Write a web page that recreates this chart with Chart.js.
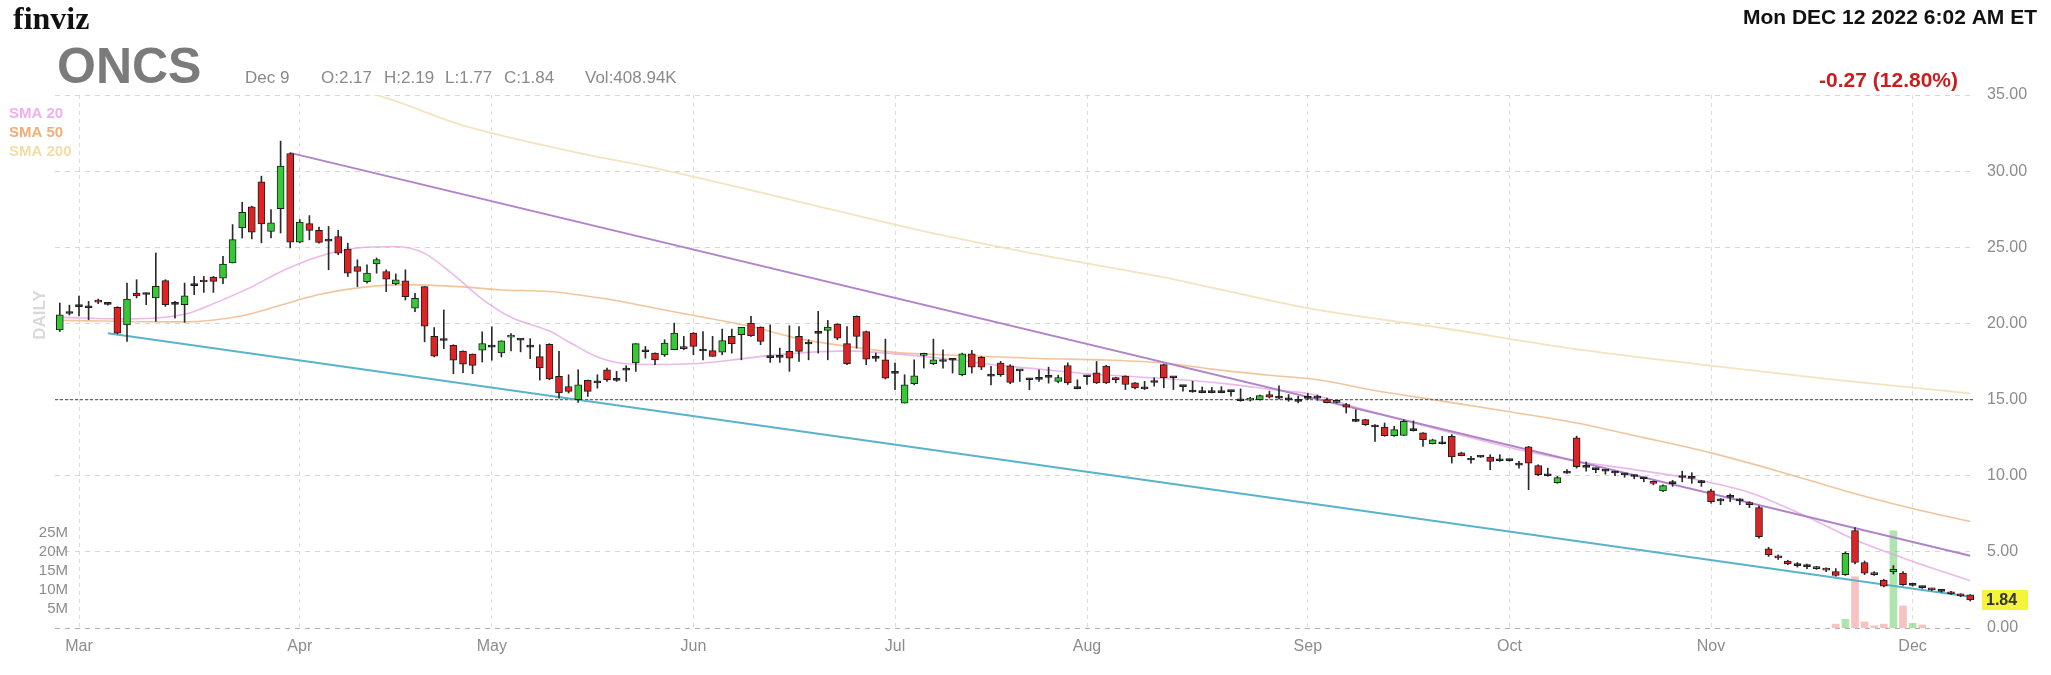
<!DOCTYPE html>
<html>
<head>
<meta charset="utf-8">
<title>ONCS daily</title>
<script src="https://cdn.jsdelivr.net/npm/chart.js@4.4.0/dist/chart.umd.min.js"></script>
<style>
    html, body { margin: 0; padding: 0; background: #ffffff; }
    #chart { display: block; }
</style>
</head>
<body>
<canvas id="chart" width="2051" height="675"></canvas>
<script>
/**
 * ONCS daily candles (Feb 25 - Dec 9, 2022), finviz style
 * Candles are floating bars on a linear bar-index axis
 */

// Trading days shown on the chart
const dates = [
    'Feb 25','Feb 28',
    'Mar 1','Mar 2','Mar 3','Mar 4','Mar 7','Mar 8','Mar 9','Mar 10','Mar 11','Mar 14','Mar 15','Mar 16','Mar 17','Mar 18','Mar 21','Mar 22','Mar 23','Mar 24','Mar 25','Mar 28','Mar 29','Mar 30','Mar 31',
    'Apr 1','Apr 4','Apr 5','Apr 6','Apr 7','Apr 8','Apr 11','Apr 12','Apr 13','Apr 14','Apr 18','Apr 19','Apr 20','Apr 21','Apr 22','Apr 25','Apr 26','Apr 27','Apr 28','Apr 29',
    'May 2','May 3','May 4','May 5','May 6','May 9','May 10','May 11','May 12','May 13','May 16','May 17','May 18','May 19','May 20','May 23','May 24','May 25','May 26','May 27','May 31',
    'Jun 1','Jun 2','Jun 3','Jun 6','Jun 7','Jun 8','Jun 9','Jun 10','Jun 13','Jun 14','Jun 15','Jun 16','Jun 17','Jun 21','Jun 22','Jun 23','Jun 24','Jun 27','Jun 28','Jun 29','Jun 30',
    'Jul 1','Jul 5','Jul 6','Jul 7','Jul 8','Jul 11','Jul 12','Jul 13','Jul 14','Jul 15','Jul 18','Jul 19','Jul 20','Jul 21','Jul 22','Jul 25','Jul 26','Jul 27','Jul 28','Jul 29',
    'Aug 1','Aug 2','Aug 3','Aug 4','Aug 5','Aug 8','Aug 9','Aug 10','Aug 11','Aug 12','Aug 15','Aug 16','Aug 17','Aug 18','Aug 19','Aug 22','Aug 23','Aug 24','Aug 25','Aug 26','Aug 29','Aug 30','Aug 31',
    'Sep 1','Sep 2','Sep 6','Sep 7','Sep 8','Sep 9','Sep 12','Sep 13','Sep 14','Sep 15','Sep 16','Sep 19','Sep 20','Sep 21','Sep 22','Sep 23','Sep 26','Sep 27','Sep 28','Sep 29','Sep 30',
    'Oct 3','Oct 4','Oct 5','Oct 6','Oct 7','Oct 10','Oct 11','Oct 12','Oct 13','Oct 14','Oct 17','Oct 18','Oct 19','Oct 20','Oct 21','Oct 24','Oct 25','Oct 26','Oct 27','Oct 28','Oct 31',
    'Nov 1','Nov 2','Nov 3','Nov 4','Nov 7','Nov 8','Nov 9','Nov 10','Nov 11','Nov 14','Nov 15','Nov 16','Nov 17','Nov 18','Nov 21','Nov 22','Nov 23','Nov 25','Nov 28','Nov 29','Nov 30',
    'Dec 1','Dec 2','Dec 5','Dec 6','Dec 7','Dec 8','Dec 9'
];

const opens = [
    19.58, 20.65, 21.1, 21.05, 21.5, 21.3, 21.05, 19.9, 22.0, 21.92,
    21.67, 22.81, 21.27, 21.23, 22.48, 22.8, 23.05, 22.98, 23.97, 26.27,
    27.65, 29.3, 26.05, 27.54, 31.16, 25.33, 26.55, 26.11, 25.45, 25.71,
    24.88, 23.74, 22.75, 23.9, 23.41, 22.6, 22.79, 21.0, 22.42, 19.16,
    18.9, 18.57, 18.18, 17.98, 18.24, 18.46, 18.07, 19.1, 18.95, 18.46,
    17.82, 18.62, 16.52, 15.86, 14.99, 16.26, 16.13, 16.96, 16.3, 16.96,
    17.4, 18.16, 18.05, 17.94, 18.27, 18.45, 19.37, 18.21, 18.21, 18.12,
    19.15, 19.26, 20.02, 19.76, 17.77, 17.77, 18.16, 19.15, 18.67, 19.37,
    19.54, 19.96, 18.67, 20.46, 19.47, 17.72, 17.61, 16.74, 14.77, 16.04,
    17.9, 17.35, 17.52, 17.62, 16.63, 18.01, 17.77, 16.56, 17.4, 17.22,
    16.92, 16.35, 16.35, 16.48, 16.2, 17.24, 15.75, 16.55, 16.75, 17.2,
    16.45, 16.54, 16.1, 15.72, 16.14, 17.3, 16.47, 15.88, 15.55, 15.48,
    15.48, 15.48, 15.55, 14.96, 14.96, 15.0, 15.33, 15.15, 15.0, 14.9,
    15.1, 15.11, 15.0, 14.9, 14.67, 13.6, 13.68, 13.25, 13.2, 12.63,
    12.65, 12.98, 12.81, 12.1, 12.15, 12.59, 11.5, 11.05, 11.23, 11.23,
    11.0, 11.0, 10.72, 11.89, 10.66, 10.05, 9.55, 10.2, 12.48, 10.6,
    10.45, 10.35, 10.2, 10.1, 10.0, 9.85, 9.6, 9.0, 9.5, 9.9,
    9.85, 9.6, 9.0, 8.4, 8.6, 8.4, 8.2, 7.9, 5.2, 4.7,
    4.4, 4.15, 4.05, 4.0, 3.9, 3.7, 3.5, 6.4, 4.3, 3.6,
    3.15, 3.7, 3.6, 2.8, 2.7, 2.6, 2.45, 2.35, 2.2, 2.17
];

const highs = [
    21.34, 21.2, 21.8, 21.45, 21.6, 21.32, 21.1, 22.65, 22.87, 22.0,
    24.63, 22.87, 21.45, 22.65, 23.09, 23.09, 23.09, 24.41, 26.49, 27.96,
    27.7, 29.67, 27.48, 31.97, 31.2, 26.82, 27.08, 26.33, 26.37, 26.11,
    25.27, 24.18, 23.85, 24.3, 23.52, 23.25, 23.52, 21.98, 22.42, 19.73,
    20.88, 18.6, 18.2, 18.0, 19.45, 19.78, 18.86, 19.34, 18.97, 19.0,
    18.6, 18.67, 18.16, 16.63, 16.96, 16.28, 16.63, 17.07, 16.85, 17.22,
    18.67, 18.49, 18.07, 18.93, 20.02, 19.15, 19.4, 19.47, 19.15, 19.63,
    19.63, 19.74, 20.46, 19.78, 19.91, 18.38, 19.85, 19.8, 18.93, 20.79,
    20.2, 19.98, 19.8, 20.5, 19.5, 18.05, 18.97, 17.4, 16.63, 17.61,
    18.05, 18.97, 18.27, 17.64, 18.05, 18.23, 17.83, 17.18, 17.51, 17.29,
    16.94, 16.4, 16.96, 17.13, 16.6, 17.41, 16.3, 16.57, 17.5, 17.25,
    16.47, 16.56, 16.12, 16.2, 16.43, 17.32, 16.49, 15.9, 16.2, 15.83,
    15.8, 15.85, 15.57, 15.7, 15.15, 15.3, 15.55, 15.9, 15.33, 15.22,
    15.4, 15.3, 15.1, 14.95, 14.75, 14.34, 13.7, 13.35, 13.46, 13.25,
    13.68, 13.6, 12.83, 12.4, 12.59, 12.7, 11.55, 11.27, 11.3, 11.38,
    11.38, 11.05, 10.94, 11.93, 10.72, 10.5, 9.96, 10.4, 12.6, 10.9,
    10.5, 10.4, 10.3, 10.15, 10.05, 9.9, 9.65, 9.4, 9.7, 10.3,
    10.2, 9.7, 9.1, 8.5, 8.8, 8.5, 8.3, 8.0, 5.3, 4.8,
    4.45, 4.3, 4.2, 4.05, 3.95, 3.9, 5.0, 6.6, 4.4, 3.7,
    3.2, 4.1, 3.7, 2.95, 2.75, 2.62, 2.5, 2.4, 2.25, 2.19
];

const lows = [
    19.47, 20.55, 20.5, 20.25, 21.3, 21.2, 19.32, 18.82, 21.67, 21.23,
    20.13, 21.12, 20.35, 20.07, 21.89, 22.04, 22.04, 22.61, 23.97, 25.61,
    25.55, 25.29, 25.61, 25.94, 24.96, 25.29, 25.49, 25.27, 23.52, 24.51,
    23.08, 22.42, 22.64, 23.3, 22.09, 22.53, 21.54, 20.77, 18.79, 17.8,
    18.35, 16.7, 16.77, 16.7, 17.47, 17.58, 17.8, 18.2, 18.13, 17.69,
    16.28, 16.3, 15.1, 15.43, 14.81, 15.21, 15.75, 16.19, 16.19, 16.19,
    16.85, 17.72, 17.29, 17.83, 18.27, 18.27, 17.94, 17.61, 17.83, 17.94,
    18.05, 17.61, 19.15, 18.6, 17.44, 17.44, 16.85, 17.51, 17.61, 18.05,
    17.61, 18.93, 17.29, 18.38, 17.29, 17.51, 16.35, 15.65, 14.77, 15.97,
    17.07, 17.29, 17.07, 16.74, 16.56, 16.74, 16.96, 15.97, 16.52, 16.04,
    16.19, 15.65, 16.19, 16.08, 16.1, 15.99, 15.7, 15.99, 16.05, 16.05,
    16.1, 15.66, 15.7, 15.66, 15.88, 15.77, 15.66, 15.55, 15.48, 15.44,
    15.44, 15.44, 15.22, 14.89, 14.9, 14.96, 15.1, 15.05, 14.89, 14.78,
    15.0, 14.95, 14.78, 14.78, 14.12, 13.55, 13.3, 12.26, 12.59, 12.59,
    12.63, 12.93, 11.93, 12.08, 12.08, 10.83, 11.3, 10.83, 11.2, 10.39,
    10.94, 10.95, 10.5, 9.08, 10.0, 9.96, 9.5, 10.15, 10.5, 10.3,
    10.2, 10.1, 10.0, 9.9, 9.8, 9.6, 9.4, 8.95, 9.3, 9.6,
    9.5, 9.3, 8.2, 8.1, 8.3, 8.1, 7.9, 5.9, 4.7, 4.5,
    4.15, 4.0, 3.9, 3.85, 3.7, 3.4, 3.45, 4.2, 3.5, 3.45,
    2.7, 3.55, 2.8, 2.75, 2.6, 2.45, 2.35, 2.2, 2.05, 1.77
];

const closes = [
    20.57, 20.72, 21.12, 21.03, 21.4, 21.25, 19.36, 21.6, 21.8, 21.9,
    22.43, 21.23, 21.25, 21.82, 22.5, 22.72, 22.76, 23.9, 25.5, 27.3,
    25.99, 26.54, 26.6, 30.33, 25.33, 26.65, 26.11, 25.32, 25.4, 24.62,
    23.3, 23.41, 23.3, 24.2, 22.9, 22.86, 21.76, 21.65, 19.82, 17.85,
    18.88, 17.58, 17.32, 17.25, 18.68, 18.44, 18.86, 19.2, 18.9, 18.44,
    17.08, 16.36, 15.43, 15.54, 15.97, 15.54, 16.1, 16.3, 16.26, 16.93,
    18.67, 18.14, 17.61, 18.71, 19.37, 18.35, 18.49, 18.19, 17.83, 18.88,
    18.67, 19.74, 19.19, 18.82, 17.75, 17.79, 17.72, 18.16, 18.65, 19.35,
    19.76, 19.04, 17.35, 19.15, 17.66, 17.7, 16.41, 16.72, 15.97, 16.56,
    18.0, 17.61, 17.5, 17.58, 18.01, 17.13, 17.13, 16.54, 16.63, 16.13,
    16.88, 16.3, 16.33, 16.46, 16.45, 16.1, 15.72, 16.5, 16.1, 16.1,
    16.3, 15.99, 15.77, 15.7, 16.12, 16.43, 16.43, 15.85, 15.5, 15.46,
    15.46, 15.46, 15.52, 14.92, 15.1, 15.26, 15.15, 15.1, 14.98, 14.88,
    15.08, 15.09, 14.8, 14.82, 14.5, 13.57, 13.36, 13.2, 12.63, 13.03,
    13.57, 12.96, 12.37, 12.35, 12.1, 11.23, 11.32, 11.03, 11.22, 10.94,
    10.98, 10.99, 10.7, 10.83, 10.07, 10.0, 9.87, 10.17, 10.6, 10.55,
    10.4, 10.3, 10.18, 10.05, 9.95, 9.8, 9.5, 9.35, 9.48, 9.88,
    9.83, 9.55, 8.3, 8.35, 8.58, 8.35, 8.1, 6.0, 4.8, 4.6,
    4.2, 4.1, 4.03, 3.9, 3.8, 3.45, 4.9, 4.3, 3.6, 3.5,
    2.75, 3.85, 2.85, 2.85, 2.65, 2.5, 2.4, 2.25, 2.11, 1.84
];

// Visible volume bars (millions); the rest are too small to see
const volumeDates = ['Nov 18', 'Nov 21', 'Nov 22', 'Nov 23', 'Nov 25', 'Nov 28', 'Nov 29', 'Nov 30', 'Dec 1', 'Dec 2'];
const volumeMillions = [1.0, 2.3, 13.5, 1.6, 0.6, 1.0, 25.5, 5.8, 1.2, 0.8];

// Moving averages, read at sample days
const sma20Dates = ['Feb 25','Mar 8','Mar 16','Mar 21','Mar 25','Mar 30','Apr 5','Apr 11','Apr 18','Apr 21','Apr 26','Apr 29','May 4','May 10','May 12','May 17','May 20','May 25','Jun 1','Jun 7','Jun 13','Jun 17','Jun 24','Jul 1','Jul 11','Jul 18','Jul 25','Aug 1','Aug 8','Aug 15','Aug 22','Aug 29','Sep 1','Sep 9','Sep 20','Sep 27','Oct 4','Oct 12','Oct 20','Oct 28','Nov 7','Nov 15','Nov 22','Nov 30','Dec 9'];
const sma20Values = [20.4, 20.3, 20.6, 21.3, 22.4, 23.4, 24.4, 24.95, 25.05, 24.6, 23.2, 21.6, 20.4, 19.5, 18.8, 17.8, 17.35, 17.3, 17.35, 17.6, 17.9, 18.1, 18.2, 18.0, 17.7, 17.3, 17.0, 16.7, 16.5, 16.3, 16.0, 15.6, 15.4, 14.5, 13.3, 12.5, 11.7, 10.95, 10.4, 9.8, 8.9, 7.3, 5.8, 4.6, 3.1];

const sma50Dates = ['Feb 25','Mar 16','Mar 24','Mar 30','Apr 5','Apr 12','Apr 19','Apr 27','May 3','May 10','May 18','May 25','Jun 2','Jun 9','Jun 16','Jun 24','Jul 1','Jul 13','Jul 25','Aug 3','Aug 11','Aug 18','Aug 26','Sep 2','Sep 13','Sep 22','Oct 3','Oct 12','Oct 21','Nov 1','Nov 10','Nov 21','Nov 30','Dec 9'];
const sma50Values = [20.2, 20.1, 20.5, 21.2, 21.9, 22.4, 22.55, 22.4, 22.2, 22.1, 21.6, 21.0, 20.4, 19.8, 19.0, 18.5, 18.1, 17.9, 17.7, 17.6, 17.4, 17.0, 16.6, 16.3, 15.6, 14.9, 14.2, 13.46, 12.5, 11.5, 10.3, 9.0, 8.0, 7.0];

const sma200Dates = ['Apr 8','Apr 13','Apr 27','May 13','May 25','Jun 14','Jul 6','Jul 26','Aug 12','Sep 1','Sep 22','Oct 11','Oct 31','Nov 18','Dec 9'];
const sma200Values = [35.4, 35.0, 33.0, 31.2, 30.2, 28.3, 26.2, 24.4, 22.9, 21.0, 19.7, 18.4, 17.3, 16.3, 15.4];

// Drawn trend lines and horizontal level
const resistanceDates = ['Mar 31', 'Dec 9'];
const resistancePrices = [31.2, 4.75];
const supportDates = ['Mar 4', 'Dec 9'];
const supportPrices = [19.35, 2.05];
const levelPrice = 15;

// Axis ticks
const volumeTicks = [5, 10, 15, 20, 25];   // millions
const priceStep = 5;

// Header
const ticker = 'ONCS';
const lastVolumeK = 408.94;
const timestamp = 'Mon DEC 12 2022 6:02 AM ET';

// Styling
const COLORS = {
    up: '#35c935',
    down: '#dd2323',
    doji: '#222222',
    outline: '#1e1e1e',
    wick: '#2a2a2a',
    volUp: 'rgba(70, 200, 70, 0.45)',
    volDown: 'rgba(235, 80, 80, 0.35)',
    sma20: 'rgba(228, 160, 228, 0.75)',
    sma50: 'rgba(236, 178, 122, 0.75)',
    sma200: 'rgba(242, 222, 180, 0.85)',
    resistance: '#b283c9',
    support: '#5ab2cb',
    level: '#666666',
    grid: '#d6d6d6',
    label: '#8c8c8c'
};
const FONT = '"Liberation Sans", Arial, sans-serif';

// Month ticks: first trading day of every month after the first one
const monthTickIdx = [];
const monthTickLabel = [];
dates.forEach((d, k) => {
    const m = d.split(' ')[0];
    if (k > 0 && m !== dates[k - 1].split(' ')[0]) {
        monthTickIdx.push(k);
        monthTickLabel.push(m);
    }
});

const X_MIN = -0.5;
const X_MAX = dates.length - 0.5;
const idx = (d) => dates.indexOf(d);
const isDoji = (k) => Math.abs(closes[k] - opens[k]) < 0.08;

/**
 * Text and decorations around the plot
 */
const headerPlugin = {
    id: 'finvizHeader',
    afterDraw(chart) {
        const ctx = chart.ctx;
        const last = closes.length - 1;
        ctx.save();
        ctx.textBaseline = 'alphabetic';
        ctx.textAlign = 'left';

        // Logo
        ctx.fillStyle = '#111111';
        ctx.font = 'bold 32px "Liberation Serif", serif';
        ctx.fillText('finviz', 13, 29);

        // Ticker
        ctx.fillStyle = '#7b7b7b';
        ctx.font = 'bold 50px ' + FONT;
        ctx.fillText(ticker, 57, 83);

        // Last bar quote
        ctx.fillStyle = '#8a8a8a';
        ctx.font = '17px ' + FONT;
        const fields = [
            [dates[last], 245],
            ['O:' + opens[last].toFixed(2), 321],
            ['H:' + highs[last].toFixed(2), 384],
            ['L:' + lows[last].toFixed(2), 445],
            ['C:' + closes[last].toFixed(2), 504],
            ['Vol:' + lastVolumeK.toFixed(2) + 'K', 585]
        ];
        fields.forEach(([text, x]) => ctx.fillText(text, x, 83));

        // Timestamp and change
        ctx.textAlign = 'right';
        ctx.fillStyle = '#111111';
        ctx.font = 'bold 21px ' + FONT;
        ctx.fillText(timestamp, 2037, 24);

        const change = closes[last] - closes[last - 1];
        const pct = Math.abs(change) / closes[last - 1] * 100;
        ctx.fillStyle = '#c81e1e';
        ctx.fillText(change.toFixed(2) + ' (' + pct.toFixed(2) + '%)', 1958, 87);

        // SMA legend
        ctx.textAlign = 'left';
        ctx.font = 'bold 15px ' + FONT;
        [['SMA 20', '#f0b0ee', 118], ['SMA 50', '#f4ad75', 137], ['SMA 200', '#f3dca6', 156]]
            .forEach(([text, color, y]) => {
                ctx.fillStyle = color;
                ctx.fillText(text, 9, y);
            });

        // Volume scale labels (drawn here so they can overhang the plot edge)
        const yVol = chart.scales.yVol;
        ctx.textAlign = 'right';
        ctx.textBaseline = 'middle';
        ctx.fillStyle = COLORS.label;
        ctx.font = '15px ' + FONT;
        volumeTicks.forEach((v) => ctx.fillText(v + 'M', 68, yVol.getPixelForValue(v)));

        // Vertical DAILY watermark
        ctx.save();
        ctx.translate(40, 315);
        ctx.rotate(-Math.PI / 2);
        ctx.textAlign = 'center';
        ctx.textBaseline = 'middle';
        ctx.fillStyle = '#d9d9d9';
        ctx.font = 'bold 17px ' + FONT;
        ctx.fillText('DAILY', 0, 0);
        ctx.restore();

        // Last price tag
        const y = chart.scales.y.getPixelForValue(closes[last]);
        ctx.textAlign = 'left';
        ctx.fillStyle = '#f4f43a';
        ctx.fillRect(1982, y - 10, 46, 20);
        ctx.fillStyle = '#333333';
        ctx.font = 'bold 16px ' + FONT;
        ctx.textBaseline = 'middle';
        ctx.fillText(closes[last].toFixed(2), 1986, y + 1);

        ctx.restore();
    }
};

const lineSet = (label, ds, vs, color, width, order, extra = {}) => ({
    type: 'line',
    label,
    order,
    yAxisID: 'y',
    data: ds.map((d, n) => ({ x: idx(d), y: vs[n] })),
    borderColor: color,
    borderWidth: width,
    pointRadius: 0,
    fill: false,
    ...extra
});

const datasets = [
    {
        type: 'bar',
        label: 'Body',
        order: 0,
        yAxisID: 'y',
        data: dates.map((d, k) => ({ x: k, y: [opens[k], closes[k]] })),
        backgroundColor: dates.map((d, k) => isDoji(k) ? COLORS.doji : (closes[k] >= opens[k] ? COLORS.up : COLORS.down)),
        borderColor: COLORS.outline,
        borderWidth: 1,
        borderSkipped: false,
        barThickness: 7,
        minBarLength: 2,
        grouped: false
    },
    {
        type: 'bar',
        label: 'Wick',
        order: 1,
        yAxisID: 'y',
        data: dates.map((d, k) => ({ x: k, y: [lows[k], highs[k]] })),
        backgroundColor: COLORS.wick,
        borderWidth: 0,
        barThickness: 1,
        grouped: false
    },
    lineSet('Resistance', resistanceDates, resistancePrices, COLORS.resistance, 2, 2),
    lineSet('Support', supportDates, supportPrices, COLORS.support, 2, 2),
    {
        type: 'line',
        label: 'Level',
        order: 3,
        yAxisID: 'y',
        data: [{ x: X_MIN, y: levelPrice }, { x: X_MAX, y: levelPrice }],
        borderColor: COLORS.level,
        borderWidth: 1.2,
        borderDash: [3, 2],
        pointRadius: 0
    },
    lineSet('SMA 20', sma20Dates, sma20Values, COLORS.sma20, 1.6, 4, { cubicInterpolationMode: 'monotone' }),
    lineSet('SMA 50', sma50Dates, sma50Values, COLORS.sma50, 1.6, 4, { cubicInterpolationMode: 'monotone' }),
    lineSet('SMA 200', sma200Dates, sma200Values, COLORS.sma200, 1.8, 4, { cubicInterpolationMode: 'monotone' }),
    {
        type: 'bar',
        label: 'Volume',
        order: 6,
        yAxisID: 'yVol',
        data: volumeDates.map((d, n) => ({ x: idx(d), y: volumeMillions[n] })),
        backgroundColor: volumeDates.map((d) => closes[idx(d)] >= opens[idx(d)] ? COLORS.volUp : COLORS.volDown),
        barThickness: 7,
        grouped: false
    }
];

Chart.defaults.font.family = FONT;

const chart = new Chart(document.getElementById('chart'), {
    type: 'bar',
    data: { datasets },
    plugins: [headerPlugin],
    options: {
        responsive: false,
        maintainAspectRatio: false,
        devicePixelRatio: 1,
        animation: false,
        events: [],
        layout: { padding: { top: 95, left: 0, right: 0, bottom: 0 } },
        plugins: {
            legend: { display: false },
            tooltip: { enabled: false }
        },
        scales: {
            x: {
                type: 'linear',
                min: X_MIN,
                max: X_MAX,
                offset: false,
                afterFit(scale) { scale.height = 47; },
                afterBuildTicks(scale) {
                    scale.ticks = monthTickIdx.map((v) => ({ value: v }));
                },
                ticks: {
                    autoSkip: false,
                    maxRotation: 0,
                    padding: 9,
                    color: COLORS.label,
                    font: { size: 16 },
                    callback: (value) => monthTickLabel[monthTickIdx.indexOf(value)]
                },
                grid: { offset: false, color: '#dddddd', drawTicks: false },
                border: { display: false, dash: [4, 4] }
            },
            y: {
                position: 'right',
                min: 0,
                max: 35,
                afterFit(scale) { scale.width = 76; },
                ticks: {
                    stepSize: priceStep,
                    padding: 12,
                    color: COLORS.label,
                    font: { size: 16 },
                    callback: (value) => value.toFixed(2)
                },
                grid: {
                    color: (c) => c.tick && c.tick.value === 0 ? '#b0b0b0' : COLORS.grid,
                    drawTicks: false
                },
                border: { display: false, dash: [5, 5] }
            },
            yVol: {
                position: 'left',
                min: 0,
                max: 140,
                afterFit(scale) { scale.width = 55; },
                ticks: { display: false },
                grid: { display: false, drawTicks: false },
                border: { display: false }
            }
        }
    }
});
</script>
</body>
</html>
